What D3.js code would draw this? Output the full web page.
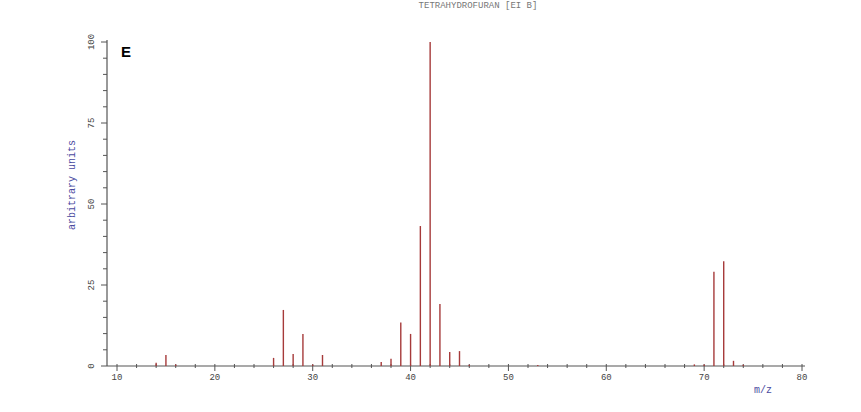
<!DOCTYPE html>
<html><head><meta charset="utf-8">
<script src="https://cdn.jsdelivr.net/npm/d3@7"></script>
<style>body{margin:0;background:#fff;} svg{display:block;}</style>
</head><body>
<svg id="c" width="861" height="412"></svg>
<script>
const mz =        [14, 15, 16, 26, 27, 28, 29, 30, 31, 37, 38, 39, 40, 41, 42, 43, 44, 45, 46, 53, 69, 70, 71, 72, 73, 74];
const intensity = [1.0,3.4,0.5,2.5,17.3,3.7,9.9,0.5,3.4,1.2,2.2,13.4,9.9,43.2,100,19.1,4.3,4.6,0.4,0.3,0.5,0.5,29.1,32.3,1.6,0.4];
const xTicks = [10, 20, 30, 40, 50, 60, 70, 80];
const yTicks = [0, 25, 50, 75, 100];
const titleText = "TETRAHYDROFURAN [EI B]";
const panelLabel = "E";
const xLabel = "m/z";
const yLabel = "arbitrary units";

const svg = d3.select("#c");
const x = d3.scaleLinear().domain([10, 80]).range([117, 802]);
const y = d3.scaleLinear().domain([0, 100]).range([366, 42]);
const axisCol = "#555";
const font = "'Liberation Mono', monospace";

// title
svg.append("text").attr("x", 478).attr("y", 8).attr("text-anchor", "middle")
  .attr("font-family", font).attr("font-size", 9).attr("fill", "#777").text(titleText);

// axes lines
svg.append("line").attr("x1", 107).attr("x2", 805).attr("y1", 366).attr("y2", 366)
  .attr("stroke", axisCol).attr("stroke-width", 1.2);
svg.append("line").attr("x1", 107).attr("x2", 107).attr("y1", 40).attr("y2", 366)
  .attr("stroke", axisCol).attr("stroke-width", 1.2);

// x ticks
const xMinor = d3.range(10, 81, 2);
svg.append("g").selectAll("line").data(xMinor).join("line")
  .attr("x1", d => x(d)).attr("x2", d => x(d))
  .attr("y1", 364)
  .attr("y2", d => d % 10 === 0 ? 371 : 368)
  .attr("stroke", axisCol).attr("stroke-width", 1);
svg.append("g").selectAll("text").data(xTicks).join("text")
  .attr("x", d => x(d)).attr("y", 380).attr("text-anchor", "middle")
  .attr("font-family", font).attr("font-size", 9).attr("fill", "#444").text(d => d);

// y ticks
const yMinor = d3.range(0, 101, 5);
svg.append("g").selectAll("line").data(yMinor).join("line")
  .attr("x1", d => d % 25 === 0 ? 101 : 103).attr("x2", 107)
  .attr("y1", d => y(d)).attr("y2", d => y(d))
  .attr("stroke", axisCol).attr("stroke-width", 1);
svg.append("g").selectAll("text").data(yTicks).join("text")
  .attr("transform", d => `translate(94,${y(d)}) rotate(-90)`)
  .attr("text-anchor", "middle")
  .attr("font-family", font).attr("font-size", 9).attr("fill", "#444").text(d => d);

// axis titles
svg.append("text").attr("transform", "translate(75,185) rotate(-90)")
  .attr("text-anchor", "middle").attr("font-family", font).attr("font-size", 10)
  .attr("fill", "#4a4aa0").text(yLabel);
svg.append("text").attr("x", 763).attr("y", 393).attr("text-anchor", "middle")
  .attr("font-family", font).attr("font-size", 10).attr("fill", "#4a4aa0").text(xLabel);

// panel label
svg.append("text").attr("x", 121).attr("y", 57).attr("font-family", "'Liberation Sans', Arial, sans-serif")
  .attr("font-weight", "bold").attr("font-size", 15).attr("fill", "#000").text(panelLabel);

// peaks
svg.append("g").selectAll("line").data(mz.map((m, i) => ({m, v: intensity[i]}))).join("line")
  .attr("x1", d => x(d.m)).attr("x2", d => x(d.m))
  .attr("y1", y(0)).attr("y2", d => y(d.v))
  .attr("stroke", "#a63a3a").attr("stroke-width", 1.4);
</script>
</body></html>
